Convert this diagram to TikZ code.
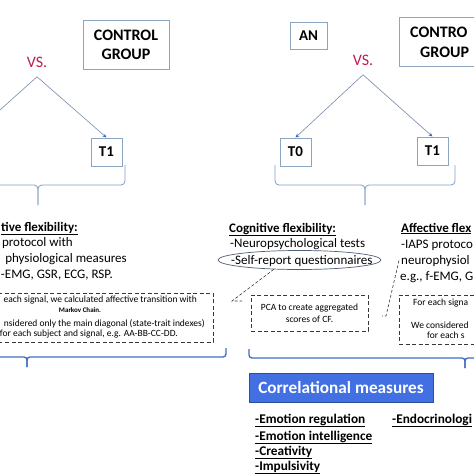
\documentclass[tikz,border=0pt]{standalone}
\usepackage{fontspec}
\setmainfont{Carlito}
\usetikzlibrary{shapes.geometric,arrows.meta}
\definecolor{boxline}{RGB}{140,166,194}
\definecolor{linkline}{RGB}{118,138,170}
\definecolor{tipblue}{RGB}{60,100,200}
\definecolor{vsred}{RGB}{196,28,78}
\definecolor{bracelight}{RGB}{128,158,196}
\definecolor{braceblue}{RGB}{62,108,196}
\definecolor{corrblue}{RGB}{66,112,226}
\definecolor{inkgray}{RGB}{55,55,55}
\definecolor{ellline}{RGB}{80,95,120}
\tikzset{
  groupbox/.style={draw=boxline, line width=0.9pt, minimum width=86pt, minimum height=49pt, align=center, font=\fontsize{16}{19}\selectfont\bfseries},
  timebox/.style={draw=boxline, line width=0.9pt, minimum width=31pt, minimum height=28pt, font=\fontsize{15}{18}\selectfont\bfseries},
  vslabel/.style={text=vsred, font=\fontsize{16}{19}\selectfont},
  link/.style={draw=linkline, line width=0.6pt, -{Stealth[length=4pt,width=3.5pt,color=tipblue]}},
  upbrace/.style={draw=bracelight, line width=0.8pt, rounded corners=4pt},
  lowbrace/.style={draw=braceblue, line width=1.3pt, rounded corners=3pt},
  headtext/.style={anchor=base west, inner sep=0pt, font=\fontsize{13}{16}\selectfont\bfseries},
  bodytext/.style={anchor=base west, inner sep=0pt, font=\fontsize{13}{16}\selectfont},
  sidetext/.style={anchor=base east, inner sep=0pt, font=\fontsize{13}{16}\selectfont},
  dashbox/.style={draw=inkgray, line width=0.9pt, dash pattern=on 4pt off 2.5pt},
  smalltext/.style={inner sep=0pt, font=\fontsize{9.5}{11.5}\selectfont},
  dashlink/.style={draw=inkgray, line width=0.6pt, dash pattern=on 3pt off 2pt},
  corrbox/.style={fill=corrblue, draw=corrblue!70!black, text=white, minimum width=184pt, minimum height=29pt, font=\fontsize{17.2}{20}\selectfont\bfseries},
  measure/.style={anchor=base west, inner sep=0pt, font=\fontsize{13.3}{16}\selectfont\bfseries},
}
\begin{document}
\begin{tikzpicture}[x=1pt, y=-1pt]
        \useasboundingbox (0,0) rectangle (474,474);
        \clip (0,0) rectangle (474,474);
        \fill[white] (0,0) rectangle (474,474);

        \node[groupbox] (ctrlA) at (126,44.5) {CONTROL\\GROUP};
        \node[vslabel] (vsA) at (37,62) {VS.};
        \coordinate (apexA) at ([yshift=-6pt]vsA.south);
        \coordinate (awayA) at (0,110);
        \node[timebox] (t1A) at (106.5,152) {T1};
        \draw[linkline, line width=0.6pt] (apexA) -- (awayA);
        \draw[link] (apexA) -- (t1A.north);
        \draw[upbrace] (125,165) |- (38,185) -- (38,205);
        \draw[upbrace] (-5,185) -| (38,205);

        \node[sidetext, font=\fontsize{13}{16}\selectfont\bfseries] (affA) at (78,231) {\underline{tive flexibility:}};
        \node[sidetext] (iapsA) at (73,246) {protocol with};
        \node[sidetext] (neuroA) at (127,262) {physiological measures};
        \node[sidetext] (egA) at (113,278) {-EMG, GSR, ECG, RSP.};

        \node[dashbox, minimum width=273pt, minimum height=49pt] (markovA) at (76.5,317.5) {};
        \node[smalltext, anchor=base east] (sigA) at (197,302) {each signal, we calculated affective transition with};
        \node[smalltext, anchor=base, font=\fontsize{7}{9}\selectfont\bfseries] (chainA) at (80,312) {Markov Chain.};
        \node[smalltext, anchor=base east] (diagA) at (205,326) {nsidered only the main diagonal (state-trait indexes)};
        \node[smalltext, anchor=base east] (subjA) at (178,336) {for each subject and signal, e.g. AA-BB-CC-DD.};
        \draw[lowbrace] (226,348) |- (27,357) -- (27,367);
        \draw[lowbrace] (-5,357) -| (27,367);

        \node[timebox, minimum width=37pt, minimum height=27pt] (anB) at (308.5,35.5) {AN};
        \node[groupbox] (ctrlB) at (442,42) {};
        \node[inner sep=0pt, anchor=west, font=\fontsize{16}{19}\selectfont\bfseries] (ctrlBtop) at (410,32.5) {CONTRO};
        \node[inner sep=0pt, anchor=west, font=\fontsize{16}{19}\selectfont\bfseries] (ctrlBbot) at (420,52) {GROUP};
        \node[vslabel] (vsB) at (363,60) {VS.};
        \coordinate (apexB) at ([yshift=-6pt]vsB.south);
        \node[timebox] (t0B) at (295.5,152) {T0};
        \node[timebox] (t1B) at (432.5,151) {T1};
        \draw[link] (apexB) -- (t0B.north);
        \draw[link] (apexB) -- (t1B.north);
        \draw[upbrace] (275,165) |- (365,185) -- (365,205);
        \draw[upbrace] (455,165) |- (365,185) -- (365,205);

        \node[headtext] (cogB) at (229,232) {\underline{Cognitive flexibility:}};
        \node[bodytext] (testsB) at (230,247) {-Neuropsychological tests};
        \node[bodytext] (selfB) at (231,264) {-Self-report questionnaires};
        \node[draw=ellline, ellipse, line width=0.7pt, minimum width=163pt, minimum height=19pt, inner sep=0pt] (selfring) at (299.5,260) {};
        \node[dashbox, minimum width=117pt, minimum height=36pt, align=center, font=\fontsize{9.5}{12}\selectfont] (pcaB) at (309.5,313) {PCA to create aggregated\\scores of CF.};
        \coordinate (pcain) at (242,301);
        \draw[dashlink] (selfring.200) -- (232,301) -- (pcain);

        \node[headtext] (affB) at (401,232) {\underline{Affective flex}};
        \node[bodytext] (iapsB) at (401,248) {-IAPS protoco};
        \node[bodytext] (neuroB) at (401,264) {neurophysiol};
        \node[bodytext] (egB) at (400,280) {e.g., f-EMG, G};
        \coordinate (affend) at (382,316);
        \draw[dashlink] ([xshift=-2pt]neuroB.west) -- (386,316) -- (affend);

        \node[dashbox, minimum width=273pt, minimum height=49pt] (markovB) at (535.5,319.5) {};
        \node[smalltext, anchor=base west] (sigB) at (413,305) {For each signa};
        \node[smalltext, anchor=base west] (diagB) at (411,328) {We considered};
        \node[smalltext, anchor=base west] (subjB) at (427,338) {for each s};
        \draw[lowbrace] (249,349) |- (465,358) -- (465,368);
        \draw[lowbrace] (480,358) -| (465,368);

        \node[corrbox] (corr) at (341,387.5) {Correlational measures};
        \node[measure] (emreg) at (255,423) {\underline{-Emotion regulation}};
        \node[measure] (emint) at (255,440) {\underline{-Emotion intelligence}};
        \node[measure] (creat) at (255,455) {\underline{-Creativity}};
        \node[measure] (impul) at (255,470) {\underline{-Impulsivity}};
        \node[measure] (endo) at (392,423) {\underline{-Endocrinologi}};
\end{tikzpicture}
\end{document}
